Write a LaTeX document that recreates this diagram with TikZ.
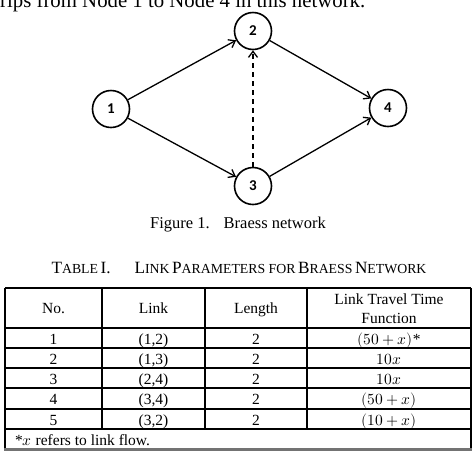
\documentclass[tikz,border=0pt]{standalone}
\usepackage{fontspec}
\usepackage{unicode-math}
\setmainfont{Liberation Serif}
\setmathfont{Latin Modern Math}
\newfontfamily\nodefont{Carlito}
\usetikzlibrary{arrows.meta}
\newcommand{\fsc}[2]{{\fontsize{17.2}{18}\selectfont #1}{\fontsize{13.8}{14}\selectfont #2}}
\begin{document}
\begin{tikzpicture}[x=1pt,y=-1pt,
  vertex/.style={circle,draw,line width=1.6pt,minimum size=37pt,inner sep=0pt,font=\nodefont\bfseries\fontsize{15}{15}\selectfont},
  link/.style={line width=1.3pt,-{Straight Barb[length=6pt,width=9pt,line width=1.3pt]}},
  dlink/.style={link,dash pattern=on 5pt off 4pt},
  cell/.style={font=\fontsize{15.5}{17}\selectfont,inner sep=0pt,anchor=base},
  rule/.style={line width=1.7pt}]
\useasboundingbox (0,0) rectangle (474,451);
% top sentence (cut by the page edge)
\node[anchor=base west,inner sep=0pt,font=\fontsize{20.8}{22}\selectfont] (top) at (0,7) {rips from Node 1 to Node 4 in this network.};
% network
\node[vertex] (n1) at (111,109) {1};
\node[vertex] (n2) at (253,31) {2};
\node[vertex] (n3) at (253,186) {3};
\node[vertex] (n4) at (388,108) {4};
\draw[link] (n1) -- (n2);
\draw[link] (n1) -- (n3);
\draw[link] (n2) -- (n4);
\draw[link] (n3) -- (n4);
\draw[dlink] (n3) -- (n2);
% captions
\node[font=\fontsize{16.5}{18}\selectfont,inner sep=0pt] (cap) at (238,225) {Figure 1.\hspace{14pt}Braess network};
\node[inner sep=0pt] (ttl) at (239,268) {\fsc{T}{ABLE} \fsc{I.}{}\hspace{24pt}\fsc{L}{INK} \fsc{P}{ARAMETERS FOR} \fsc{B}{RAESS} \fsc{N}{ETWORK}};
% table rules
\foreach \yy in {288,328,348,368,388,409,429} \draw[rule] (5,\yy) -- (471,\yy);
\draw[line width=3pt,black!55] (4,449.5) -- (472,449.5);
\draw[rule] (5,288) -- (5,448);
\draw[rule] (471,288) -- (471,448);
\foreach \xx in {102,205,307} \draw[rule] (\xx,288) -- (\xx,429);
% header
\node[cell] (h1) at (53.5,313) {No.};
\node[cell] (h2) at (153.5,313) {Link};
\node[cell] (h3) at (256,313) {Length};
\node[cell] (h4) at (389,304) {Link Travel Time};
\node[cell] (h5) at (389,323) {Function};
% rows
\node[cell] (a1) at (53.5,344) {1};
\node[cell] (b1) at (153.5,344) {(1,2)};
\node[cell] (c1) at (256,344) {2};
\node[cell] (d1) at (389,344) {$(50+x)$*};
\node[cell] (a2) at (53.5,364) {2};
\node[cell] (b2) at (153.5,364) {(1,3)};
\node[cell] (c2) at (256,364) {2};
\node[cell] (d2) at (389,364) {$10x$};
\node[cell] (a3) at (53.5,384) {3};
\node[cell] (b3) at (153.5,384) {(2,4)};
\node[cell] (c3) at (256,384) {2};
\node[cell] (d3) at (389,384) {$10x$};
\node[cell] (a4) at (53.5,404.5) {4};
\node[cell] (b4) at (153.5,404.5) {(3,4)};
\node[cell] (c4) at (256,404.5) {2};
\node[cell] (d4) at (389,404.5) {$(50+x)$};
\node[cell] (a5) at (53.5,425) {5};
\node[cell] (b5) at (153.5,425) {(3,2)};
\node[cell] (c5) at (256,425) {2};
\node[cell] (d5) at (389,425) {$(10+x)$};
\node[cell,anchor=base west] (fn) at (15,445) {*$x$ refers to link flow.};
\end{tikzpicture}
\end{document}
